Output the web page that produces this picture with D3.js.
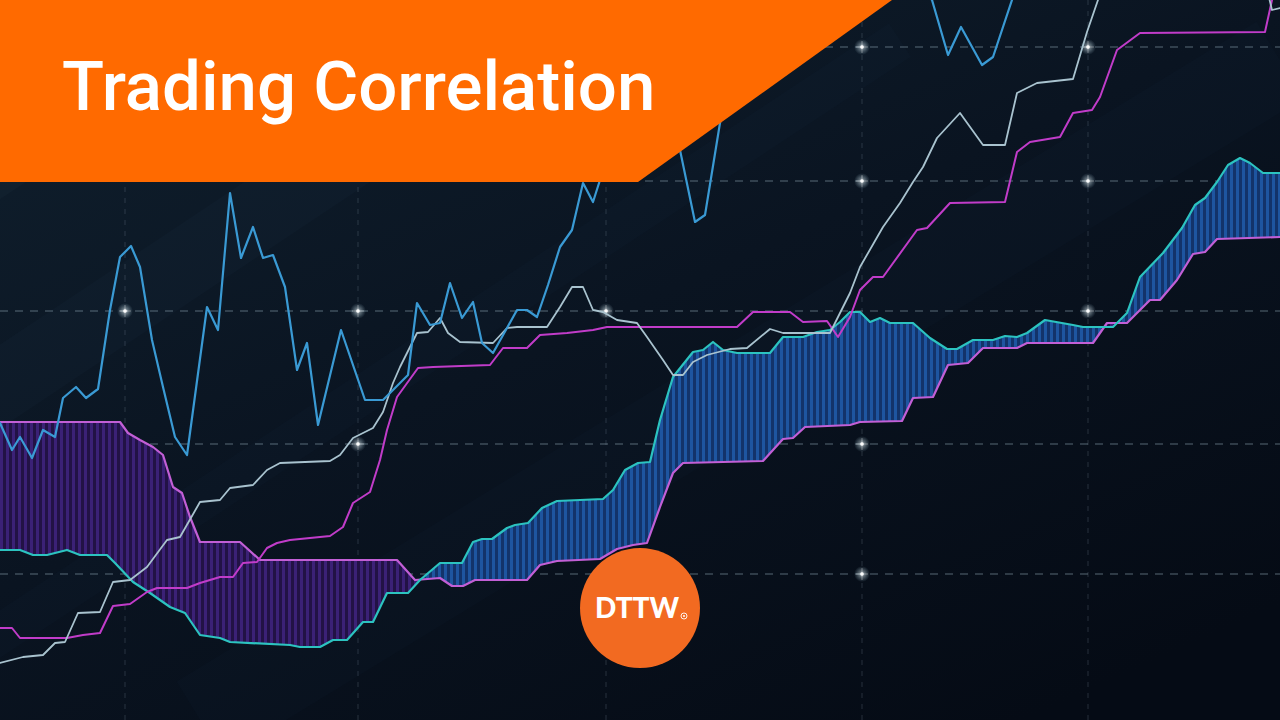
<!DOCTYPE html>
<html>
<head>
<meta charset="utf-8">
<script src="https://cdn.jsdelivr.net/npm/d3@7"></script>
<style>
  html, body { margin: 0; padding: 0; background: #08111c; }
  svg { display: block; }
</style>
</head>
<body>
<svg id="chart" width="1280" height="720"></svg>
<script>
// ---------- DATA (x = session index, y = price) ----------
const titleText = "Trading Correlation";
const logoText = "DTTW";

// price (jagged blue line)
const priceSeries = [
  [0,29.7],[1.2,27.0],[2.0,28.3],[3.2,26.2],[4.3,29.0],[5.5,28.3],[6.3,32.2],[7.6,33.3],
  [8.6,32.2],[9.8,33.1],[11.0,41.0],[12.0,46.3],[13.1,47.4],[14.0,45.3],[15.2,38.0],
  [16.3,33.3],[17.5,28.3],[18.7,26.5],[20.7,41.3],[21.8,39.0],[23.0,52.7],[24.1,46.2],
  [25.3,49.3],[26.3,46.2],[27.3,46.5],[28.5,43.3],[29.7,35.0],[30.7,37.7],[31.8,29.5],
  [34.1,39.0],[36.5,32.0],[38.3,32.0],[40.8,34.5],[41.7,41.7],[43.0,39.5],[44.0,39.7],
  [45.0,43.7],[46.2,40.2],[47.3,41.8],[48.2,37.7],[49.3,36.7],[50.7,39.2],[51.7,41.0],
  [52.7,41.0],[53.7,40.3],[54.8,43.5],[56.0,47.3],[57.2,49.0],[58.3,53.7],[59.3,51.8],
  [60.0,54.0],[62.5,62.0],[65.5,66.0],[68.0,57.0],[69.5,49.8],[70.5,50.5],[72.0,59.7],
  [74.0,66.0],[77.0,70.0],[80.0,68.0],[83.0,73.0],[86.0,76.0],[90.5,75.0],[93.2,72.0],
  [94.8,66.5],[96.1,69.3],[98.2,65.5],[99.3,66.3],[101.2,72.0],[103.0,78.0]
];

// lagging span (light grey line)
const laggingSeries = [
  [0,5.7],[2.3,6.3],[4.3,6.5],[5.5,7.7],[6.5,7.8],[7.8,10.7],[10.0,10.8],[11.3,13.8],
  [13.0,14.0],[14.7,15.3],[16.7,18.0],[18.0,18.3],[20.0,21.8],[22.0,22.0],[23.0,23.2],
  [25.3,23.5],[26.7,25.0],[28.0,25.7],[33.0,25.9],[34.0,26.5],[35.3,28.2],[36.3,28.7],
  [37.3,29.2],[38.3,30.8],[39.3,33.7],[40.0,35.3],[41.7,38.7],[42.8,38.8],[44.0,40.2],
  [44.8,38.7],[46.0,37.8],[49.3,37.7],[50.7,39.2],[51.7,39.3],[54.7,39.3],[56.0,41.3],
  [57.2,43.3],[58.3,43.3],[59.3,41.0],[60.3,40.8],[61.7,40.0],[63.7,39.7],[64.7,38.3],
  [66.3,36.0],[67.3,34.5],[68.3,34.5],[69.3,35.8],[70.7,36.5],[73.0,37.1],[74.7,37.2],
  [77.0,39.1],[78.3,38.7],[83.0,38.7],[84.0,40.7],[85.0,42.7],[86.0,45.3],[88.3,49.3],
  [90.0,51.7],[91.3,53.8],[92.3,55.3],[93.7,58.2],[96.0,60.7],[98.3,57.5],[100.5,57.5],
  [101.7,62.7],[103.7,63.7],[107.3,64.1],[108.7,68.8],[109.8,72.0],[111.0,76.0],
  [126.0,76.0],[127.2,71.0],[128.0,71.2]
];

// conversion / base line (magenta)
const baseSeries = [
  [0,9.2],[1.2,9.2],[2.0,8.2],[6.7,8.2],[8.3,8.5],[10.0,8.7],[11.3,11.4],[13.0,11.6],
  [14.7,12.8],[15.7,13.2],[18.7,13.2],[20.0,13.7],[22.0,14.3],[23.3,14.3],[24.3,15.7],
  [25.7,15.8],[26.7,17.2],[27.7,17.7],[29.0,18.0],[33.0,18.4],[34.3,19.3],[35.3,21.7],
  [37.0,22.8],[38.0,26.0],[38.7,29.0],[39.7,32.3],[41.8,35.2],[43.3,35.3],[49.0,35.5],
  [50.3,37.2],[52.7,37.2],[54.0,38.5],[56.7,38.7],[59.3,39.0],[60.7,39.3],[73.7,39.3],
  [75.3,40.8],[79.0,40.8],[80.3,39.8],[82.7,39.9],[83.8,38.3],[85.0,40.3],[86.0,43.0],
  [87.3,44.3],[88.3,44.3],[91.7,49.0],[92.7,49.2],[95.0,51.7],[100.5,51.8],[101.7,56.8],
  [103.0,57.8],[106.0,58.3],[107.3,60.7],[109.2,61.0],[110.0,62.3],[111.7,67.0],
  [114.0,68.7],[126.5,68.8],[127.2,72.0],[128.0,74.0]
];

// leading span A (teal cloud edge)
const spanA = [
  [0,17.0],[2.0,17.0],[3.3,16.5],[4.7,16.5],[6.7,17.0],[8.0,16.5],[10.7,16.5],[11.5,15.7],
  [13.3,13.8],[15.0,12.7],[17.0,11.3],[18.5,10.7],[20.0,8.5],[22.0,8.2],[23.0,7.8],
  [29.0,7.5],[30.0,7.3],[32.0,7.3],[33.3,8.0],[34.7,8.0],[36.3,9.8],[37.3,9.8],[38.7,12.7],
  [40.8,12.7],[42.0,14.0],[44.0,15.7],[46.2,15.7],[47.3,17.8],[48.2,18.1],[49.2,18.1],
  [50.7,19.2],[51.5,19.5],[52.8,19.7],[54.2,21.2],[55.7,21.9],[60.3,22.1],[61.3,23.0],
  [62.5,25.0],[63.8,25.7],[65.0,25.8],[66.0,30.0],[67.3,34.3],[69.3,36.8],[70.3,37.0],
  [71.3,37.8],[72.3,37.0],[73.7,36.7],[77.0,36.7],[78.3,38.3],[80.3,38.3],[81.7,38.8],
  [83.0,39.0],[84.0,39.8],[85.0,40.8],[86.0,40.8],[87.0,39.8],[88.0,40.2],[89.0,39.7],
  [91.3,39.7],[93.0,38.2],[94.7,37.1],[95.7,37.1],[97.3,38.0],[99.3,38.0],[100.5,38.4],
  [101.7,38.3],[102.7,38.7],[104.5,40.0],[107.3,39.5],[108.3,39.3],[111.3,39.3],
  [112.7,40.7],[114.0,44.3],[116.3,46.7],[118.2,49.2],[119.5,51.5],[120.5,52.2],
  [121.7,53.8],[122.8,55.5],[124.0,56.2],[125.0,55.7],[126.3,54.7],[128.0,54.7]
];

// leading span B (violet cloud edge)
const spanB = [
  [0,29.8],[12.0,29.8],[12.8,28.7],[14.0,28.0],[15.3,27.3],[16.3,26.5],[17.3,23.3],
  [18.2,22.7],[19.0,20.3],[20.0,17.8],[24.0,17.8],[26.0,16.0],[39.7,16.0],[41.5,14.0],
  [44.0,14.2],[45.2,13.4],[46.3,13.4],[47.5,14.0],[52.7,14.0],[54.0,15.5],[55.7,15.9],
  [60.0,16.1],[61.7,17.1],[63.3,17.5],[64.7,17.7],[66.0,21.3],[67.3,24.7],[68.3,25.7],
  [76.3,25.9],[78.3,28.1],[79.3,28.2],[80.5,29.3],[85.0,29.5],[86.0,29.8],[90.2,29.9],
  [91.3,32.2],[93.3,32.3],[94.8,35.5],[96.8,35.7],[98.3,37.2],[101.7,37.2],[102.7,37.7],
  [109.3,37.7],[110.7,39.7],[112.7,39.7],[115.0,42.0],[116.0,42.0],[117.7,44.0],
  [119.3,46.6],[120.5,46.8],[121.7,48.1],[128.0,48.3]
];

// grid positions (x in sessions, y in price)
const xGrid = [12.5, 35.8, 60.6, 86.2, 108.8];
const yGrid = [67.3, 53.9, 40.9, 27.6, 14.6];
// grid crossings that glow [xGrid index, yGrid index]
const glowPoints = [[0,2],[1,2],[1,3],[1,4],[2,2],[3,0],[3,1],[3,3],[3,4],[4,0],[4,1],[4,2]];

// ---------- DRAW ----------
const W = 1280, H = 720;
const svg = d3.select("#chart");
const x = d3.scaleLinear().domain([0, 128]).range([0, W]);
const y = d3.scaleLinear().domain([0, 72]).range([H, 0]);
const line = d3.line().x(d => x(d[0])).y(d => y(d[1]));

const defs = svg.append("defs");
const bg = defs.append("linearGradient").attr("id", "bg")
  .attr("x1", 0).attr("y1", 0).attr("x2", 0.8).attr("y2", 1);
bg.append("stop").attr("offset", 0).attr("stop-color", "#10202e");
bg.append("stop").attr("offset", 0.5).attr("stop-color", "#0a1421");
bg.append("stop").attr("offset", 1).attr("stop-color", "#050b15");

const pPurple = defs.append("pattern").attr("id", "hatchPurple")
  .attr("patternUnits", "userSpaceOnUse").attr("width", 6).attr("height", 10);
pPurple.append("rect").attr("width", 6).attr("height", 10).attr("fill", "#221245");
pPurple.append("rect").attr("width", 3).attr("height", 10).attr("fill", "#3b2176");

const pBlue = defs.append("pattern").attr("id", "hatchBlue")
  .attr("patternUnits", "userSpaceOnUse").attr("width", 6).attr("height", 10);
pBlue.append("rect").attr("width", 6).attr("height", 10).attr("fill", "#13336a");
pBlue.append("rect").attr("width", 3).attr("height", 10).attr("fill", "#1e55a0");

const glow = defs.append("radialGradient").attr("id", "glow");
glow.append("stop").attr("offset", 0).attr("stop-color", "#ffffff").attr("stop-opacity", 0.9);
glow.append("stop").attr("offset", 0.3).attr("stop-color", "#dfeff5").attr("stop-opacity", 0.45);
glow.append("stop").attr("offset", 1).attr("stop-color", "#9fc4d4").attr("stop-opacity", 0);

// clip regions: above span A and below span A
defs.append("clipPath").attr("id", "aboveA").append("path")
  .attr("d", line(spanA.concat([[128, 90], [0, 90]])) + "Z");
defs.append("clipPath").attr("id", "belowA").append("path")
  .attr("d", line(spanA.concat([[128, -10], [0, -10]])) + "Z");

// background
svg.append("rect").attr("width", W).attr("height", H).attr("fill", "url(#bg)");
// faint diagonal streaks
const streaks = svg.append("g").attr("stroke", "#7fa6c0").attr("fill", "none");
[[-200, 520, 700, -80, 70, 0.025], [-100, 700, 900, 40, 40, 0.02], [200, 720, 1280, 60, 90, 0.018],
 [-300, 380, 500, -150, 30, 0.03]].forEach(s => {
  streaks.append("line").attr("x1", s[0]).attr("y1", s[1]).attr("x2", s[2]).attr("y2", s[3])
    .attr("stroke-width", s[4]).attr("stroke-opacity", s[5]);
});

// grid
const grid = svg.append("g");
grid.selectAll("line.h").data(yGrid).join("line").attr("class", "h")
  .attr("x1", 0).attr("x2", W).attr("y1", d => y(d)).attr("y2", d => y(d))
  .attr("stroke", "#8fa6b2").attr("stroke-opacity", 0.4).attr("stroke-width", 1.4)
  .attr("stroke-dasharray", "8,7");
grid.selectAll("line.v").data(xGrid).join("line").attr("class", "v")
  .attr("y1", 0).attr("y2", H).attr("x1", d => x(d)).attr("x2", d => x(d))
  .attr("stroke", "#8fa6b2").attr("stroke-opacity", 0.2).attr("stroke-width", 1.2)
  .attr("stroke-dasharray", "5,6");
const glows = grid.selectAll("g.glow").data(glowPoints).join("g").attr("class", "glow")
  .attr("transform", d => `translate(${x(xGrid[d[0]])},${y(yGrid[d[1]])})`);
glows.append("circle").attr("r", 8).attr("fill", "url(#glow)");
glows.append("path").attr("d", "M-6,0H6M0,-6V6").attr("stroke", "#ffffff")
  .attr("stroke-opacity", 0.35).attr("stroke-width", 1);
glows.append("circle").attr("r", 1.8).attr("fill", "#ffffff").attr("fill-opacity", 0.9);

// cloud fill
const cloudPath = line(spanA.concat(spanB.slice().reverse())) + "Z";
svg.append("path").attr("d", cloudPath).attr("fill", "url(#hatchPurple)")
  .attr("fill-rule", "evenodd").attr("clip-path", "url(#aboveA)");
svg.append("path").attr("d", cloudPath).attr("fill", "url(#hatchBlue)")
  .attr("fill-rule", "evenodd").attr("clip-path", "url(#belowA)");

// lines
const series = [
  { data: spanB, color: "#c25fd6", w: 2.2 },
  { data: spanA, color: "#2cc3c0", w: 2.2 },
  { data: baseSeries, color: "#c13cc9", w: 2 },
  { data: laggingSeries, color: "#a9c3cf", w: 1.8 },
  { data: priceSeries, color: "#3a9ad4", w: 2.2 }
];
svg.append("g").selectAll("path").data(series).join("path")
  .attr("d", d => line(d.data)).attr("fill", "none")
  .attr("stroke", d => d.color).attr("stroke-width", d => d.w)
  .attr("stroke-linejoin", "round").attr("stroke-linecap", "round");

// title banner
svg.append("path").attr("d", "M0,0H892L638,182H0Z").attr("fill", "#ff6a00");
svg.append("text").attr("x", 62).attr("y", 110).text(titleText)
  .attr("fill", "#ffffff").attr("font-family", "Roboto, 'Noto Sans', sans-serif")
  .attr("font-weight", 500).attr("font-size", 69);

// logo
const logo = svg.append("g").attr("transform", "translate(640,608)");
logo.append("circle").attr("r", 60).attr("fill", "#f26a21");
logo.append("text").attr("x", -3).attr("y", 10).attr("text-anchor", "middle").text(logoText)
  .attr("fill", "#ffffff").attr("font-family", "Lato, 'Open Sans', sans-serif")
  .attr("font-weight", 900).attr("font-size", 28);
logo.append("circle").attr("cx", 44).attr("cy", 8).attr("r", 3)
  .attr("fill", "none").attr("stroke", "#ffffff").attr("stroke-width", 0.9);
logo.append("circle").attr("cx", 44).attr("cy", 8).attr("r", 1)
  .attr("fill", "#ffffff");
</script>
</body>
</html>
